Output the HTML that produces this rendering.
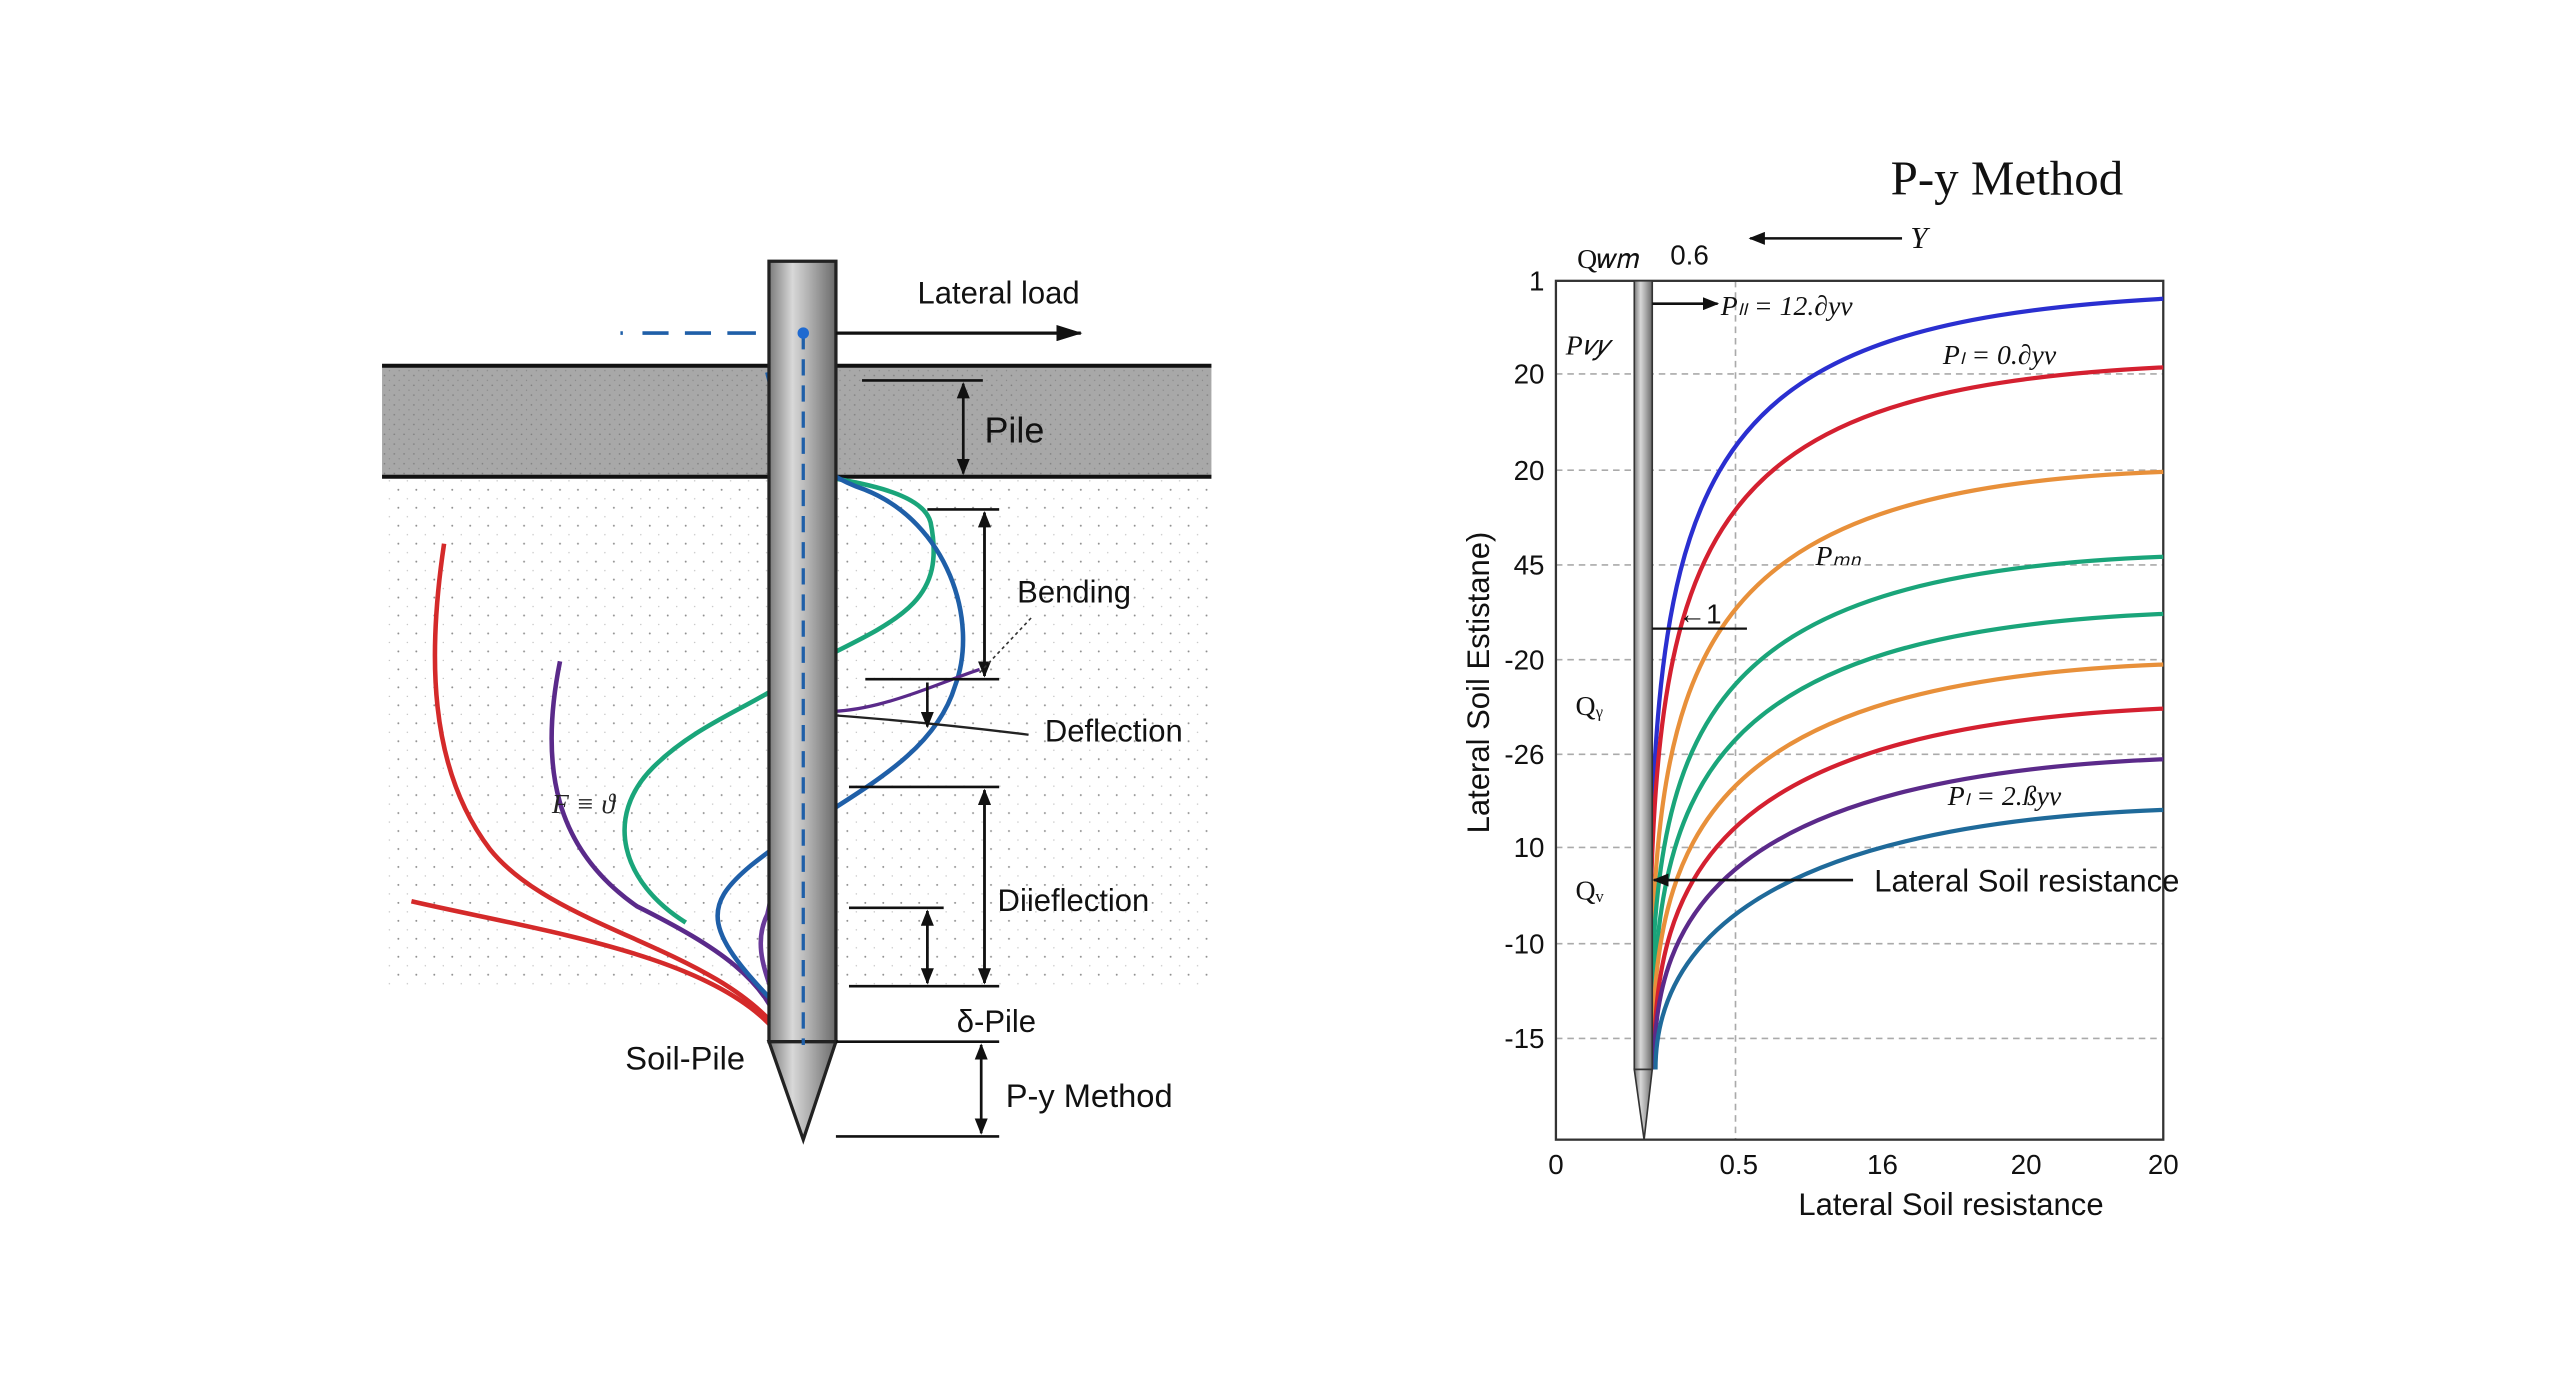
<!DOCTYPE html>
<html><head><meta charset="utf-8"><style>html,body{margin:0;padding:0;background:#fff}svg{display:block}</style></head><body>
<svg width="2560" height="1396" viewBox="0 0 1568 855" preserveAspectRatio="none" xmlns="http://www.w3.org/2000/svg" font-family="Liberation Sans, sans-serif">
<defs>
<pattern id="dots" width="11" height="11" patternUnits="userSpaceOnUse"><circle cx="2" cy="3" r="0.6" fill="#444"/><circle cx="7.5" cy="8.5" r="0.4" fill="#888"/></pattern>
<pattern id="dots2" width="6" height="6" patternUnits="userSpaceOnUse"><circle cx="1.5" cy="2" r="0.5" fill="#555"/><circle cx="4.5" cy="5" r="0.4" fill="#666"/></pattern>
<linearGradient id="pg" x1="0" x2="1"><stop offset="0" stop-color="#7a7a7a"/><stop offset="0.35" stop-color="#d8d8d8"/><stop offset="0.6" stop-color="#b0b0b0"/><stop offset="1" stop-color="#6a6a6a"/></linearGradient>
<marker id="ah" markerWidth="10" markerHeight="8" refX="9" refY="4" orient="auto" markerUnits="userSpaceOnUse"><path d="M0,0 L10,4 L0,8 z" fill="#111"/></marker>
<marker id="ahs" markerWidth="16" markerHeight="10" refX="15" refY="5" orient="auto" markerUnits="userSpaceOnUse"><path d="M0,0 L16,5 L0,10 z" fill="#111"/></marker>
</defs>
<rect width="1568" height="855" fill="#fff"/>
<rect x="234" y="292" width="508" height="313" fill="url(#dots)" opacity="0.6"/>
<rect x="234" y="224" width="508" height="68" fill="#a8a8a8"/>
<rect x="234" y="224" width="508" height="68" fill="url(#dots2)" opacity="0.5"/>
<line x1="234" y1="224" x2="742" y2="224" stroke="#111" stroke-width="2.5"/>
<line x1="234" y1="292" x2="742" y2="292" stroke="#111" stroke-width="2.5"/>
<g fill="none" stroke-width="2.8">
<path d="M272,333 C262,400 262,470 300,520 C340,570 440,580 480,635" stroke="#d42a2a"/>
<path d="M252,552 C330,570 440,585 478,635" stroke="#d42a2a"/>
<path d="M343,405 C330,470 340,520 390,555 C440,580 470,600 480,635" stroke="#5a2a8a"/>
<path d="M420,565 C380,540 370,500 400,470 C430,440 470,430 490,410 C550,380 580,370 570,320 C565,300 520,295 495,290" stroke="#1aa57a"/>
<path d="M470,228 C480,270 500,290 530,300 C580,320 600,380 585,420 C570,470 510,490 460,530 C430,555 430,570 480,620" stroke="#1f5fa8"/>
<path d="M490,410 C470,470 480,520 470,560 C460,580 470,600 482,630" stroke="#6a3a9a"/>
<path d="M495,435 C530,440 570,420 600,410" stroke="#5a2a8a" stroke-width="2"/>
<path d="M495,437 C540,440 590,445 630,450" stroke="#222" stroke-width="1.4"/>
</g>
<rect x="471" y="160" width="41" height="478" fill="url(#pg)" stroke="#222" stroke-width="2"/>
<path d="M471,638 L512,638 L492,698 Z" fill="url(#pg)" stroke="#222" stroke-width="2"/>
<line x1="492" y1="204" x2="492" y2="640" stroke="#1f5fa8" stroke-width="2" stroke-dasharray="10,6"/>
<line x1="380" y1="204" x2="470" y2="204" stroke="#1f5fa8" stroke-width="2.2" stroke-dasharray="1.5,12,16,10,16,10,16,0"/>
<circle cx="492" cy="204" r="3.5" fill="#1f6ad0"/>
<line x1="512" y1="204" x2="662" y2="204" stroke="#111" stroke-width="2" marker-end="url(#ahs)"/>
<text x="562" y="186" font-size="19" fill="#111">Lateral load</text>
<g stroke="#111" stroke-width="1.6">
<line x1="528" y1="233" x2="602" y2="233"/><line x1="528" y1="292" x2="602" y2="292"/>
<line x1="590" y1="236" x2="590" y2="290" marker-end="url(#ah)"/><line x1="590" y1="289" x2="590" y2="235" marker-end="url(#ah)"/>
<line x1="568" y1="312" x2="612" y2="312"/><line x1="530" y1="416" x2="612" y2="416"/>
<line x1="603" y1="314" x2="603" y2="414" marker-end="url(#ah)"/><line x1="603" y1="414" x2="603" y2="314" marker-end="url(#ah)"/>
<line x1="568" y1="418" x2="568" y2="445" marker-end="url(#ah)"/>
<line x1="520" y1="482" x2="612" y2="482"/><line x1="520" y1="604" x2="612" y2="604"/>
<line x1="603" y1="484" x2="603" y2="602" marker-end="url(#ah)"/><line x1="603" y1="602" x2="603" y2="484" marker-end="url(#ah)"/>
<line x1="520" y1="556" x2="578" y2="556"/>
<line x1="568" y1="558" x2="568" y2="602" marker-end="url(#ah)"/><line x1="568" y1="602" x2="568" y2="558" marker-end="url(#ah)"/>
<line x1="512" y1="638" x2="612" y2="638"/><line x1="512" y1="696" x2="612" y2="696"/>
<line x1="601" y1="640" x2="601" y2="694" marker-end="url(#ah)"/><line x1="601" y1="694" x2="601" y2="640" marker-end="url(#ah)"/>
</g>
<line x1="600" y1="412" x2="632" y2="378" stroke="#333" stroke-width="1" stroke-dasharray="2,2"/>
<text x="603" y="271" font-size="22" fill="#111">Pile</text>
<text x="623" y="369" font-size="19" fill="#111">Bending</text>
<text x="640" y="454" font-size="19" fill="#111">Deflection</text>
<text x="611" y="558" font-size="19" fill="#111">Diieflection</text>
<text x="586" y="632" font-size="19" fill="#111">δ-Pile</text>
<text x="616" y="678" font-size="20" fill="#111">P-y Method</text>
<text x="383" y="655" font-size="20" fill="#111">Soil-Pile</text>
<text x="338" y="498" font-size="17" font-style="italic" font-family="Liberation Serif, serif" fill="#222">F ≡ ϑ</text>
<text x="1158" y="119" font-size="30" font-family="Liberation Serif, serif" fill="#111">P-y Method</text>
<g stroke="#aaa" stroke-width="1" stroke-dasharray="4,3">
<line x1="953" y1="229" x2="1325" y2="229"/><line x1="953" y1="288" x2="1325" y2="288"/><line x1="953" y1="346" x2="1325" y2="346"/><line x1="953" y1="404" x2="1325" y2="404"/><line x1="953" y1="462" x2="1325" y2="462"/><line x1="953" y1="519" x2="1325" y2="519"/><line x1="953" y1="578" x2="1325" y2="578"/><line x1="953" y1="636" x2="1325" y2="636"/>
<line x1="1063" y1="172" x2="1063" y2="698"/>
</g>
<rect x="953" y="172" width="372" height="526" fill="none" stroke="#333" stroke-width="1.4"/>
<g font-size="17" fill="#111" text-anchor="end">
<text x="946" y="178">1</text><text x="946" y="235">20</text><text x="946" y="294">20</text><text x="946" y="352">45</text><text x="946" y="410">-20</text><text x="946" y="468">-26</text><text x="946" y="525">10</text><text x="946" y="584">-10</text><text x="946" y="642">-15</text>
</g>
<g font-size="17" fill="#111" text-anchor="middle">
<text x="953" y="719">0</text><text x="1065" y="719">0.5</text><text x="1153" y="719">16</text><text x="1241" y="719">20</text><text x="1325" y="719">20</text>
</g>
<text x="1195" y="744" font-size="19" text-anchor="middle" fill="#111">Lateral Soil resistance</text>
<text transform="translate(912,418) rotate(-90)" font-size="19" text-anchor="middle" fill="#111">Lateral Soil Estistane)</text>
<g fill="none" stroke-width="2.6">
<path d="M1010,655 C1010,290 1020,200 1325,183" stroke="#2a2fd0"/>
<path d="M1010,655 C1010,330 1025,240 1325,225" stroke="#d42030"/>
<path d="M1011,655 C1011,400 1030,300 1325,289" stroke="#e8903a"/>
<path d="M1011,655 C1011,445 1035,352 1325,341" stroke="#1aa57a"/>
<path d="M1012,655 C1012,480 1040,388 1325,376" stroke="#1aa57a"/>
<path d="M1012,655 C1012,510 1045,418 1325,407" stroke="#e8903a"/>
<path d="M1013,655 C1013,535 1050,446 1325,434" stroke="#d42030"/>
<path d="M1013,655 C1013,560 1055,476 1325,465" stroke="#5b2a8a"/>
<path d="M1014,655 C1014,590 1060,506 1325,496" stroke="#1f6a9a"/>
</g>
<rect x="1001" y="172" width="11" height="483" fill="url(#pg)" stroke="#333" stroke-width="1"/>
<path d="M1001,655 L1012,655 L1007,698 Z" fill="url(#pg)" stroke="#333" stroke-width="1"/>
<g font-family="Liberation Serif, serif" fill="#111">
<text x="966" y="164" font-size="17">Q𝑤𝑚</text>
<text x="1023" y="162" font-size="17" font-family="Liberation Sans, sans-serif">0.6</text>
<text x="1170" y="152" font-size="19" font-style="italic">Y</text>
<text x="959" y="217" font-size="17" font-style="italic">P𝑣𝑦</text>
<text x="1054" y="193" font-size="17" font-style="italic">Pₗₗ = 12.∂yv</text>
<text x="1190" y="223" font-size="17" font-style="italic">Pₗ = 0.∂yv</text>
<text x="1112" y="346" font-size="17" font-style="italic">Pₘₙ</text>
<text x="1028" y="382" font-size="17" font-family="Liberation Sans, sans-serif">←1</text>
<text x="965" y="438" font-size="17">Qᵧ</text>
<text x="965" y="551" font-size="17">Qᵥ</text>
<text x="1193" y="493" font-size="17" font-style="italic">Pₗ = 2.ßyv</text>
</g>
<line x1="1165" y1="146" x2="1072" y2="146" stroke="#111" stroke-width="1.6" marker-end="url(#ah)"/>
<line x1="1012" y1="186" x2="1052" y2="186" stroke="#111" stroke-width="1.6" marker-end="url(#ah)"/>
<line x1="1012" y1="385" x2="1070" y2="385" stroke="#111" stroke-width="1.4"/>
<line x1="1135" y1="539" x2="1013" y2="539" stroke="#111" stroke-width="1.6" marker-end="url(#ah)"/>
<text x="1148" y="546" font-size="19" fill="#111">Lateral Soil resistance</text>
</svg>
</body></html>
